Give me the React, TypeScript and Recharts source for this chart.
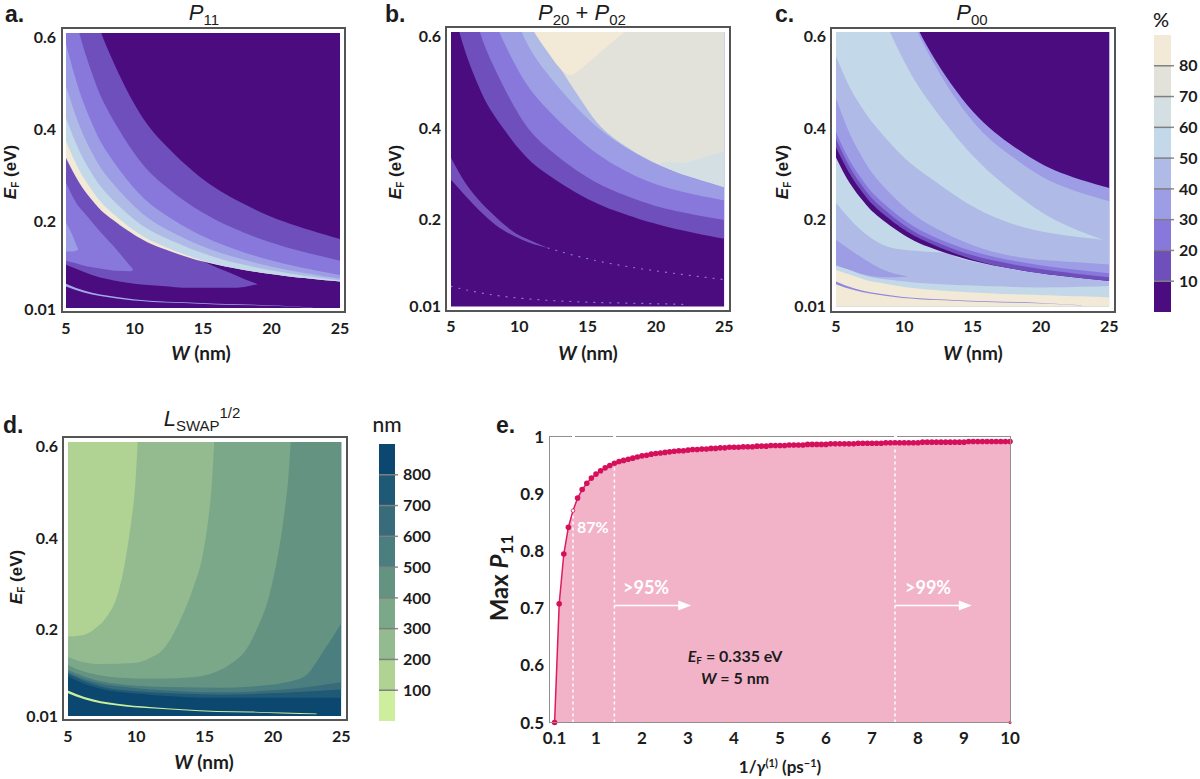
import React from "react";
import { ComposedChart, Area, Line, XAxis, YAxis, BarChart, Bar, ReferenceLine, ReferenceDot } from "recharts";

const FONT = "Lato, Carlito, 'Open Sans', sans-serif";
const HEAD_FONT = "'Liberation Sans', Arial, sans-serif";
const INK = "#1c1c1c";

// ---------- shared tick labels ----------
const W_TICKS = [5, 10, 15, 20, 25];
const E_TICKS = [0.01, 0.2, 0.4, 0.6];
const PCT_TICKS = [10, 20, 30, 40, 50, 60, 70, 80];
const NM_TICKS = [100, 200, 300, 400, 500, 600, 700, 800];
const RATE_TICKS = [0.1, 1, 2, 3, 4, 5, 6, 7, 8, 9, 10];
const P_TICKS = [0.5, 0.6, 0.7, 0.8, 0.9, 1];

// ---------- colour scales ----------
const PCT_COLORS = ["#4b0c80", "#6f4fbb", "#8878dc", "#9d9de6", "#afbbe6", "#c3d8e8", "#d4dfe4", "#e2e2db", "#f2e9d6"];
const NM_COLORS = ["#cdee9d", "#b0d292", "#93bb8f", "#7ca88a", "#659382", "#4b7e7e", "#386c7a", "#1e5a76", "#0c476f"];
const PCT_STEPS = [10, 10, 10, 10, 10, 10, 10, 10, 10];
const NM_STEPS = [100, 100, 100, 100, 100, 100, 100, 100, 100];

// ---------- shared W grids ----------
const FULL_W = [5, 25];
const FULL_LO = [0, 0];
const FULL_HI = [2, 2];
const GRID = [5, 6, 7, 8, 10, 12, 15, 18, 21, 25];

// ---------- panel a: P11 ----------
const A_RIDGE = [0.338, 0.283, 0.243, 0.213, 0.171, 0.142, 0.113, 0.095, 0.082, 0.07];
const A_C6 = [0.375, 0.31, 0.264, 0.229, 0.18, 0.148, 0.115, 0.095, 0.082, 0.07];
const A_C5 = [0.425, 0.352, 0.299, 0.26, 0.204, 0.168, 0.131, 0.106, 0.089, 0.072];
const A_C4 = [0.494, 0.407, 0.344, 0.298, 0.233, 0.189, 0.146, 0.117, 0.096, 0.076];
const A_C3 = [0.586, 0.482, 0.407, 0.351, 0.272, 0.22, 0.168, 0.133, 0.108, 0.084];
const A_C2 = [0.736, 0.607, 0.514, 0.445, 0.348, 0.283, 0.219, 0.176, 0.145, 0.115];
const A_C1 = [0.944, 0.781, 0.665, 0.578, 0.455, 0.374, 0.292, 0.238, 0.199, 0.162];
const A_LOBE_W = [5, 6, 7, 8, 10, 12, 14, 15.2, 16, 17, 18, 19];
const A_LOBE_HI = [0.34, 0.285, 0.245, 0.215, 0.173, 0.144, 0.124, 0.111, 0.1, 0.088, 0.075, 0.064];
const A_LOBE_LO = [0.106, 0.094, 0.083, 0.075, 0.065, 0.06, 0.056, 0.056, 0.056, 0.056, 0.058, 0.064];
const A_MID_W = [5, 5.66, 6.5, 7.5, 8.7, 9.7, 9.9];
const A_MID_HI = [0.285, 0.245, 0.213, 0.178, 0.139, 0.103, 0.096];
const A_MID_LO = [0.115, 0.11, 0.103, 0.098, 0.093, 0.092, 0.096];
const A_TIP_W = [5, 5.4, 5.8, 5.9];
const A_TIP_HI = [0.198, 0.175, 0.146, 0.14];
const A_TIP_LO = [0.135, 0.135, 0.137, 0.14];
const THIN_W = [5, 6.3, 8.7, 11.1, 13.6, 16, 19.7, 23];
const THIN_HI = [0.065, 0.05, 0.036, 0.028, 0.0245, 0.0215, 0.0185, 0.013];
const THIN_LO = [0.059, 0.046, 0.033, 0.026, 0.023, 0.02, 0.0175, 0.0125];

// ---------- panel b: P20 + P02 ----------
const B_C1 = [0.68, 0.571, 0.493, 0.435, 0.354, 0.3, 0.245, 0.209, 0.183, 0.158];
const B_C2 = [0.84, 0.72, 0.62, 0.543, 0.428, 0.358, 0.292, 0.25, 0.222, 0.199];
const B_C3 = [1.0, 0.87, 0.76, 0.65, 0.522, 0.443, 0.36, 0.303, 0.268, 0.242];
const B_C4 = [1.2, 1.04, 0.9, 0.79, 0.622, 0.521, 0.421, 0.354, 0.31, 0.271];
const B_C5_W = [9, 10, 11.1, 12, 13, 13.7, 14.8, 16, 18, 21, 25];
const B_C5 = [0.76, 0.68, 0.61, 0.57, 0.53, 0.498, 0.449, 0.402, 0.356, 0.31, 0.271];
const B_PALE_W = [20.2, 20.7, 21.9, 23.4, 25];
const B_PALE_LO = [0.32, 0.314, 0.299, 0.287, 0.271];
const B_PALE_HI = [0.32, 0.327, 0.324, 0.335, 0.349];
const B_CREAM_W = [11.1, 12, 13, 13.7, 14.6, 16, 17.6];
const B_CREAM_LO = [0.61, 0.57, 0.53, 0.516, 0.532, 0.568, 0.608];
const B_SLIVER_W = [5, 6.05, 7, 8.24, 9.7, 10.7, 12.1];
const B_SLIVER_HI = [0.335, 0.28, 0.244, 0.207, 0.171, 0.156, 0.138];
const B_SLIVER_LO = [0.287, 0.252, 0.222, 0.189, 0.163, 0.15, 0.138];
const B_DOTS1_W = [12.1, 14, 16, 18, 20, 22, 25];
const B_DOTS1 = [0.138, 0.122, 0.108, 0.097, 0.088, 0.08, 0.069];
const B_DOTS2_W = [5, 6.5, 8.4, 10.2, 12.5, 14.7, 18.8, 22];
const B_DOTS2 = [0.054, 0.044, 0.034, 0.028, 0.023, 0.02, 0.017, 0.015];

// ---------- panel c: P00 ----------
const C_RIDGE = [0.336, 0.28, 0.24, 0.209, 0.166, 0.138, 0.11, 0.092, 0.079, 0.066];
const C_G4 = [0.358, 0.3, 0.257, 0.224, 0.178, 0.147, 0.113, 0.092, 0.079, 0.066];
const C_G3 = [0.376, 0.315, 0.27, 0.236, 0.188, 0.155, 0.122, 0.102, 0.088, 0.074];
const C_G2 = [0.391, 0.329, 0.284, 0.249, 0.199, 0.165, 0.131, 0.11, 0.096, 0.083];
const C_G1 = [0.465, 0.388, 0.332, 0.289, 0.228, 0.186, 0.144, 0.12, 0.11, 0.102];
const C_LENS_W = [5, 6, 7, 8, 10, 12, 15, 18, 21, 24.55];
const C_LENS_LO = [0.557, 0.49, 0.44, 0.4, 0.335, 0.289, 0.229, 0.19, 0.169, 0.156];
const C_LENS_HI = [1.08, 0.9, 0.77, 0.675, 0.545, 0.45, 0.34, 0.26, 0.2, 0.156];
const C_UP_W = [8, 10, 12, 15, 18, 21, 25];
const C_UP1 = [0.82, 0.675, 0.55, 0.415, 0.335, 0.28, 0.24];
const C_UP2 = [0.846, 0.685, 0.562, 0.437, 0.36, 0.308, 0.269];
const C_WEDGE_W = [5, 6.8, 9.2, 11.65, 13.1, 14.1, 16.5, 19, 21.4, 25];
const C_WEDGE = [0.237, 0.178, 0.1375, 0.13, 0.127, 0.115, 0.1, 0.086, 0.079, 0.065];
const C_LOBE_W = [5, 6.8, 8.5, 10.3];
const C_LOBE_HI = [0.156, 0.119, 0.09, 0.076];
const C_LOBE_LO = [0.1, 0.082, 0.074, 0.076];
const C_LOW = [0.1, 0.09, 0.079, 0.072, 0.065, 0.06, 0.056, 0.053, 0.052, 0.055];
const C_CREAM = [0.09, 0.08, 0.07, 0.063, 0.053, 0.047, 0.041, 0.037, 0.034, 0.03];

// ---------- panel d: L_SWAP ----------
const D_W1 = [5, 6, 7.4, 9, 11, 13.5, 16, 20.8, 25];
const D1 = [0.098, 0.084, 0.071, 0.063, 0.058, 0.053, 0.051, 0.051, 0.051];
const D2 = [0.104, 0.09, 0.076, 0.068, 0.063, 0.06, 0.058, 0.062, 0.069];
const D3 = [0.107, 0.094, 0.082, 0.075, 0.069, 0.065, 0.063, 0.069, 0.085];
const D4_W = [5, 6, 7.4, 9, 11, 13.5, 16, 18.5, 20.8, 22.4, 23.2, 23.8, 24.5, 25];
const D4 = [0.112, 0.1, 0.087, 0.08, 0.076, 0.074, 0.073, 0.076, 0.084, 0.1, 0.13, 0.158, 0.19, 0.2145];
const D5_W = [5, 6, 7.4, 9, 11, 13, 14.7, 16, 17, 18, 18.8, 19.7, 20.3, 20.8, 21.15, 21.3];
const D5 = [0.123, 0.11, 0.1, 0.095, 0.093, 0.094, 0.098, 0.11, 0.127, 0.155, 0.2, 0.272, 0.353, 0.448, 0.543, 0.61];
const D6_W = [5, 6, 7.4, 9.8, 11, 12, 12.7, 13.34, 14.2, 14.8, 15.17, 15.5, 15.7];
const D6 = [0.14, 0.13, 0.125, 0.127, 0.138, 0.158, 0.19, 0.229, 0.295, 0.355, 0.42, 0.51, 0.61];
const D7_W = [5, 5.9, 6.88, 7.85, 8.59, 9.07, 9.44, 9.68, 9.93, 10.1];
const D7 = [0.185, 0.187, 0.2, 0.229, 0.273, 0.331, 0.397, 0.448, 0.52, 0.61];
const D_LINE_W = [5, 6.2, 8.6, 11, 13.4, 15.9, 18.3, 20.7, 23.2];
const D_LINE_HI = [0.067, 0.053, 0.038, 0.031, 0.026, 0.022, 0.021, 0.019, 0.017];
const D_LINE_LO = [0.061, 0.048, 0.034, 0.028, 0.024, 0.02, 0.019, 0.017, 0.015];

// ---------- panel e: Max P11 against 1/gamma ----------
const E_X = [
  0.1, 0.2, 0.3, 0.4, 0.5, 0.6, 0.7, 0.8, 0.9, 1.0, 1.1, 1.2, 1.3, 1.4, 1.5, 1.6, 1.7, 1.8, 1.9, 2.0,
  2.1, 2.2, 2.3, 2.4, 2.5, 2.6, 2.7, 2.8, 2.9, 3.0, 3.1, 3.2, 3.3, 3.4, 3.5, 3.6, 3.7, 3.8, 3.9, 4.0,
  4.1, 4.2, 4.3, 4.4, 4.5, 4.6, 4.7, 4.8, 4.9, 5.0, 5.1, 5.2, 5.3, 5.4, 5.5, 5.6, 5.7, 5.8, 5.9, 6.0,
  6.1, 6.2, 6.3, 6.4, 6.5, 6.6, 6.7, 6.8, 6.9, 7.0, 7.1, 7.2, 7.3, 7.4, 7.5, 7.6, 7.7, 7.8, 7.9, 8.0,
  8.1, 8.2, 8.3, 8.4, 8.5, 8.6, 8.7, 8.8, 8.9, 9.0, 9.1, 9.2, 9.3, 9.4, 9.5, 9.6, 9.7, 9.8, 9.9, 10.0,
];
const E_Y = [
  0.5, 0.708, 0.795, 0.842, 0.871, 0.893, 0.908, 0.919, 0.928, 0.935, 0.941, 0.946, 0.95, 0.954, 0.957, 0.959, 0.961, 0.963, 0.965, 0.967,
  0.968, 0.97, 0.971, 0.972, 0.973, 0.974, 0.975, 0.976, 0.976, 0.977, 0.978, 0.978, 0.979, 0.979, 0.98, 0.98, 0.981, 0.981, 0.982, 0.982,
  0.982, 0.983, 0.983, 0.983, 0.984, 0.984, 0.984, 0.985, 0.985, 0.985, 0.985, 0.986, 0.986, 0.986, 0.986, 0.987, 0.987, 0.987, 0.987, 0.987,
  0.988, 0.988, 0.988, 0.988, 0.988, 0.988, 0.989, 0.989, 0.989, 0.989, 0.989, 0.989, 0.99, 0.99, 0.99, 0.99, 0.99, 0.99, 0.99, 0.99,
  0.991, 0.991, 0.991, 0.991, 0.991, 0.991, 0.991, 0.991, 0.991, 0.991, 0.992, 0.992, 0.992, 0.992, 0.992, 0.992, 0.992, 0.992, 0.992, 0.992,
];
const E_OPEN_X = 0.5;
const E_GUIDE_87 = 0.5;
const E_GUIDE_95 = 1.4;
const E_GUIDE_99 = 7.5;

// ---------- helpers ----------
const rows = (w: number[], lo: number[], hi: number[]) => w.map((x, i) => ({ w: x, v: [lo[i], hi[i]] }));
const above = (w: number[], lo: number[]) => rows(w, lo, w.map(() => 2));
const below = (w: number[], hi: number[]) => rows(w, w.map(() => 0), hi);
const points = (w: number[], y: number[]) => w.map((x, i) => ({ w: x, y: y[i] }));
const [P0, P1, P2, P3, P4, P5, P6, P7, P8] = PCT_COLORS;
const [G0, G1, G2, G3, G4, G5, G6, G7, G8] = NM_COLORS;
type Layer = { d: any[]; c: string; t?: string };

const LAYERS_A: Layer[] = [
  { d: rows(FULL_W, FULL_LO, FULL_HI), c: P0 },
  { d: rows(A_LOBE_W, A_LOBE_LO, A_LOBE_HI), c: P1, t: "monotone" },
  { d: rows(A_MID_W, A_MID_LO, A_MID_HI), c: P2, t: "monotone" },
  { d: rows(A_TIP_W, A_TIP_LO, A_TIP_HI), c: P3, t: "monotone" },
  { d: rows(THIN_W, THIN_LO, THIN_HI), c: "#a4a9ea", t: "monotone" },
  { d: above(GRID, A_RIDGE), c: P8 },
  { d: above(GRID, A_C6), c: P5 },
  { d: above(GRID, A_C5), c: P4 },
  { d: above(GRID, A_C4), c: P3 },
  { d: above(GRID, A_C3), c: P2 },
  { d: above(GRID, A_C2), c: P1 },
  { d: above(GRID, A_C1), c: P0 },
];
const LAYERS_B: Layer[] = [
  { d: rows(FULL_W, FULL_LO, FULL_HI), c: P0 },
  { d: rows(B_SLIVER_W, B_SLIVER_LO, B_SLIVER_HI), c: "#7550bd", t: "monotone" },
  { d: above(GRID, B_C1), c: P1 },
  { d: above(GRID, B_C2), c: P2 },
  { d: above(GRID, B_C3), c: P3 },
  { d: above(GRID, B_C4), c: P4 },
  { d: above(B_C5_W, B_C5), c: P7 },
  { d: rows(B_PALE_W, B_PALE_LO, B_PALE_HI), c: P6, t: "monotone" },
  { d: above(B_CREAM_W, B_CREAM_LO), c: P8, t: "monotone" },
];
const LAYERS_C: Layer[] = [
  { d: rows(FULL_W, FULL_LO, FULL_HI), c: P5 },
  { d: below(C_WEDGE_W, C_WEDGE), c: P4, t: "monotone" },
  { d: rows(C_LOBE_W, C_LOBE_LO, C_LOBE_HI), c: P3, t: "monotone" },
  { d: below(GRID, C_LOW), c: P5 },
  { d: below(GRID, C_CREAM), c: P8 },
  { d: rows(THIN_W, THIN_LO, THIN_HI), c: "#8f86e0", t: "monotone" },
  { d: above(GRID, C_RIDGE), c: P0 },
  { d: above(GRID, C_G4), c: P1 },
  { d: above(GRID, C_G3), c: P2 },
  { d: above(GRID, C_G2), c: P3 },
  { d: above(GRID, C_G1), c: P4 },
  { d: rows(C_LENS_W, C_LENS_LO, C_LENS_HI), c: P5 },
  { d: above(C_UP_W, C_UP1), c: P3 },
  { d: above(C_UP_W, C_UP2), c: P0 },
];
const LAYERS_D: Layer[] = [
  { d: rows(FULL_W, FULL_LO, FULL_HI), c: G8, t: "monotone" },
  { d: rows(D_LINE_W, D_LINE_LO, D_LINE_HI), c: G0, t: "monotone" },
  { d: above(D_W1, D1), c: G7, t: "monotone" },
  { d: above(D_W1, D2), c: G6, t: "monotone" },
  { d: above(D_W1, D3), c: G5, t: "monotone" },
  { d: above(D4_W, D4), c: G4, t: "monotone" },
  { d: above(D5_W, D5), c: G3, t: "monotone" },
  { d: above(D6_W, D6), c: G2, t: "monotone" },
  { d: above(D7_W, D7), c: G1, t: "monotone" },
];

type Box = { x0: number; x1: number; y0: number; y1: number; fx: number; fy: number; fw: number; fh: number };
const Y_W = 50;
const X_H = 36;

function Contour({ box, layers, dots }: { box: Box; layers: Layer[]; dots?: any[][] }) {
  const pw = box.x1 - box.x0;
  const ph = box.y1 - box.y0;
  const tick = { fontFamily: FONT, fontWeight: 700, fontSize: 16, fill: INK };
  return (
    <>
      <div style={{ position: "absolute", left: box.x0 - Y_W, top: box.y0 - 10 }}>
        <ComposedChart width={Y_W + pw + 24} height={10 + ph + X_H} margin={{ top: 10, right: 24, bottom: 0, left: 0 }}>
          <XAxis dataKey="w" type="number" domain={[5, 25]} ticks={W_TICKS} interval={0} allowDataOverflow axisLine={false} tickLine={false} tickSize={0} tickMargin={14} height={X_H} tick={tick} />
          <YAxis type="number" domain={[0.01, 0.61]} ticks={E_TICKS} interval={0} allowDataOverflow axisLine={false} tickLine={false} tickSize={0} tickMargin={10} width={Y_W} tick={tick} />
          {layers.map((l, i) => (
            <Area key={i} data={l.d} dataKey="v" type={(l.t || "natural") as any} fill={l.c} fillOpacity={1} stroke="none" dot={false} activeDot={false} isAnimationActive={false} />
          ))}
          {(dots || []).map((d, i) => (
            <Line key={"d" + i} data={d} dataKey="y" type="monotone" stroke="#8f78cf" strokeWidth={1.2} strokeLinecap="round" strokeDasharray="1 7" dot={false} activeDot={false} isAnimationActive={false} />
          ))}
        </ComposedChart>
      </div>
      <div style={{ position: "absolute", left: box.fx, top: box.fy, width: box.fw, height: box.fh, boxSizing: "border-box", border: "2px solid #555", boxShadow: "inset 0 0 0 3px #fff", pointerEvents: "none" }} />
    </>
  );
}

function ColorBar({ x, y, w, h, colors, steps, ticks, max }: any) {
  const row: any = { name: "scale" };
  steps.forEach((s: number, i: number) => (row["b" + i] = s));
  return (
    <div style={{ position: "absolute", left: x, top: y }}>
      <BarChart width={w + 44} height={h} data={[row]} margin={{ top: 0, right: 0, bottom: 0, left: 0 }} barCategoryGap={0}>
        <XAxis dataKey="name" hide />
        <YAxis orientation="right" type="number" domain={[0, max]} ticks={ticks} interval={0} axisLine={false} width={44} tickSize={3} tickMargin={5} tickLine={{ stroke: "#8a8a8a", strokeWidth: 1.5 }} tick={{ fontFamily: FONT, fontWeight: 700, fontSize: 16, fill: INK }} />
        {steps.map((_: number, i: number) => (
          <Bar key={i} dataKey={"b" + i} stackId="s" fill={colors[i]} isAnimationActive={false} />
        ))}
        {ticks.map((t: number) => (
          <ReferenceLine key={t} y={t} stroke="#7f7f7f" strokeWidth={1.5} />
        ))}
      </BarChart>
    </div>
  );
}

const Arrow = (props: any) => <polygon points={`${props.cx - 13},${props.cy - 5} ${props.cx},${props.cy} ${props.cx - 13},${props.cy + 5}`} fill="#fff" />;

function SaturationChart() {
  const data = E_X.map((x, i) => ({ x, y: E_Y[i] }));
  const tick = { fontFamily: FONT, fontWeight: 700, fontSize: 17, fill: INK };
  const dashed = { stroke: "#fff", strokeWidth: 1.5, strokeDasharray: "3 3" };
  const dot = (p: any) => {
    const open = p.payload.x === E_OPEN_X;
    return <circle key={p.index} cx={p.cx} cy={p.cy} r={open ? 1.8 : 2.8} fill={open ? "#fff" : "#d60f5b"} stroke={open ? "#d60f5b" : "none"} strokeWidth={0.8} />;
  };
  return (
    <>
      <div style={{ position: "absolute", left: 500, top: 427 }}>
        <ComposedChart width={530} height={330} data={data} margin={{ top: 10, right: 20, bottom: 0, left: 0 }}>
          <XAxis dataKey="x" type="number" domain={[0, 10]} ticks={RATE_TICKS} interval={0} axisLine={false} tickLine={false} tickSize={0} tickMargin={9} height={34.5} tick={tick} />
          <YAxis type="number" domain={[0.5, 1]} ticks={P_TICKS} interval={0} axisLine={false} tickLine={false} tickSize={0} tickMargin={6} width={50} tick={tick} />
          <Area dataKey="y" type="linear" fill="#f2b3c9" fillOpacity={1} stroke="#df1a60" strokeWidth={1.5} dot={dot} activeDot={false} isAnimationActive={false} />
          <ReferenceLine segment={[{ x: E_GUIDE_87, y: 0.5 }, { x: E_GUIDE_87, y: 0.868 }]} {...dashed} />
          <ReferenceLine segment={[{ x: E_GUIDE_95, y: 0.5 }, { x: E_GUIDE_95, y: 0.95 }]} {...dashed} />
          <ReferenceLine segment={[{ x: E_GUIDE_99, y: 0.5 }, { x: E_GUIDE_99, y: 1 }]} {...dashed} />
          <ReferenceLine segment={[{ x: E_GUIDE_95, y: 0.705 }, { x: 3.0, y: 0.705 }]} stroke="#fff" strokeWidth={1.6} />
          <ReferenceLine segment={[{ x: E_GUIDE_99, y: 0.705 }, { x: 9.1, y: 0.705 }]} stroke="#fff" strokeWidth={1.6} />
          <ReferenceDot x={3.07} y={0.705} r={3} shape={Arrow} />
          <ReferenceDot x={9.17} y={0.705} r={3} shape={Arrow} />
          <ReferenceDot x={10} y={0.5} r={1.5} fill="#d60f5b" stroke="none" />
        </ComposedChart>
      </div>
      <div style={{ position: "absolute", left: 549, top: 436, width: 462, height: 287, boxSizing: "border-box", border: "1.5px solid #8f8f8f", pointerEvents: "none" }} />
      <div style={{ position: "absolute", left: 571.5, top: 435, width: 3, height: 3, background: "#fff" }} />
      <div style={{ position: "absolute", left: 613, top: 435, width: 3, height: 3, background: "#fff" }} />
      <div style={{ position: "absolute", left: 894, top: 435, width: 3, height: 3, background: "#fff" }} />
    </>
  );
}

// ---------- text overlay ----------
const T = (p: any) => <text fontFamily={FONT} fill={INK} {...p} />;

function Title({ x, y, parts }: { x: number; y: number; parts: [string, boolean, string][] }) {
  return (
    <text x={x} y={y} textAnchor="middle" fontFamily={HEAD_FONT} fill={INK} fontSize={22}>
      {parts.map(([s, it, mode], i) => {
        const dy = mode === "sub" ? 5 : mode === "sup" ? -8 : 0;
        const prevSub = i > 0 && parts[i - 1][2] === "sub";
        const back = prevSub ? -5 : 0;
        return (
          <tspan key={i} fontStyle={it ? "italic" : "normal"} fontSize={mode === "" ? 22 : 15} dy={dy + back}>
            {s}
          </tspan>
        );
      })}
    </text>
  );
}

function WTitle({ x, y }: { x: number; y: number }) {
  return (
    <T x={x} y={y} textAnchor="middle" fontSize={19} fontWeight={700}>
      <tspan fontStyle="italic">W</tspan> (nm)
    </T>
  );
}

function ETitle({ x, y }: { x: number; y: number }) {
  return (
    <text transform={`translate(${x},${y}) rotate(-90)`} textAnchor="middle" fontFamily={HEAD_FONT} fill={INK} fontSize={17} fontWeight={700}>
      <tspan fontStyle="italic">E</tspan>
      <tspan fontSize={10} dy={3}>F</tspan>
      <tspan dy={-3}> (eV)</tspan>
    </text>
  );
}

const Letter = ({ x, y, s }: { x: number; y: number; s: string }) => (
  <text x={x} y={y} fontFamily={HEAD_FONT} fontWeight={700} fontSize={23} fill={INK}>{s}</text>
);

function Overlay() {
  return (
    <svg width={1200} height={779} style={{ position: "absolute", left: 0, top: 0, pointerEvents: "none" }}>
      <Letter x={5} y={22} s="a." />
      <Letter x={385} y={22} s="b." />
      <Letter x={775} y={22} s="c." />
      <Letter x={3} y={433} s="d." />
      <Letter x={496} y={433} s="e." />

      <Title x={204} y={20} parts={[["P", true, ""], ["11", false, "sub"]]} />
      <Title x={582} y={20} parts={[["P", true, ""], ["20", false, "sub"], [" + ", false, ""], ["P", true, ""], ["02", false, "sub"]]} />
      <Title x={972} y={20} parts={[["P", true, ""], ["00", false, "sub"]]} />
      <Title x={202} y={426} parts={[["L", true, ""], ["SWAP", false, "sub"], ["1/2", false, "sup"]]} />

      <T x={1161} y={27} textAnchor="middle" fontSize={20} fontWeight={500}>%</T>
      <T x={387} y={432} textAnchor="middle" fontSize={21} fontWeight={500}>nm</T>

      <WTitle x={201} y={360} />
      <WTitle x={588} y={360} />
      <WTitle x={973} y={360} />
      <WTitle x={204} y={769} />
      <ETitle x={16} y={172} />
      <ETitle x={401} y={172} />
      <ETitle x={788} y={172} />
      <ETitle x={22} y={577} />

      <T transform="translate(508,578) rotate(-90)" textAnchor="middle" fontSize={24} fontWeight={700}>
        Max <tspan fontStyle="italic">P</tspan><tspan fontSize={17} dy={5}>11</tspan>
      </T>
      <T x={780} y={773} textAnchor="middle" fontSize={17} fontWeight={700}>
        1/<tspan fontStyle="italic">γ</tspan><tspan fontSize={11} dy={-6}>(1)</tspan>
        <tspan dy={6}> (ps</tspan><tspan fontSize={11} dy={-6}>−1</tspan><tspan dy={6}>)</tspan>
      </T>

      <T x={577} y={533} fontSize={16} fontWeight={700} fill="#fff">87%</T>
      <T x={623} y={594} fontSize={18} fontWeight={700} fill="#fff">&gt;95%</T>
      <T x={905} y={594} fontSize={18} fontWeight={700} fill="#fff">&gt;99%</T>
      <T x={735} y={662} textAnchor="middle" fontSize={16} fontWeight={700}>
        <tspan fontStyle="italic">E</tspan><tspan fontSize={10} dy={2}>F</tspan><tspan dy={-2}> = 0.335 eV</tspan>
      </T>
      <T x={735} y={684} textAnchor="middle" fontSize={16} fontWeight={700}>
        <tspan fontStyle="italic">W</tspan> = 5 nm
      </T>
    </svg>
  );
}

export default function App() {
  return (
    <div style={{ position: "absolute", left: 0, top: 0, width: 1200, height: 779, background: "#fff", overflow: "hidden" }}>
      <Contour box={{ x0: 66, x1: 340, y0: 33.4, y1: 309.4, fx: 61, fy: 27, fw: 285, fh: 286 }} layers={LAYERS_A} />
      <Contour box={{ x0: 450.7, x1: 724, y0: 32.4, y1: 307, fx: 445, fy: 26, fw: 286, fh: 286 }} layers={LAYERS_B} dots={[points(B_DOTS1_W, B_DOTS1), points(B_DOTS2_W, B_DOTS2)]} />
      <Contour box={{ x0: 835.7, x1: 1109, y0: 32.4, y1: 307, fx: 830, fy: 27, fw: 286, fh: 286 }} layers={LAYERS_C} />
      <Contour box={{ x0: 67.7, x1: 341, y0: 442.4, y1: 717, fx: 62, fy: 436, fw: 286, fh: 285 }} layers={LAYERS_D} />
      <ColorBar x={1154} y={35} w={17} h={277} colors={PCT_COLORS} steps={PCT_STEPS} ticks={PCT_TICKS} max={90} />
      <ColorBar x={379} y={444} w={16} h={277} colors={NM_COLORS} steps={NM_STEPS} ticks={NM_TICKS} max={900} />
      <SaturationChart />
      <Overlay />
    </div>
  );
}
